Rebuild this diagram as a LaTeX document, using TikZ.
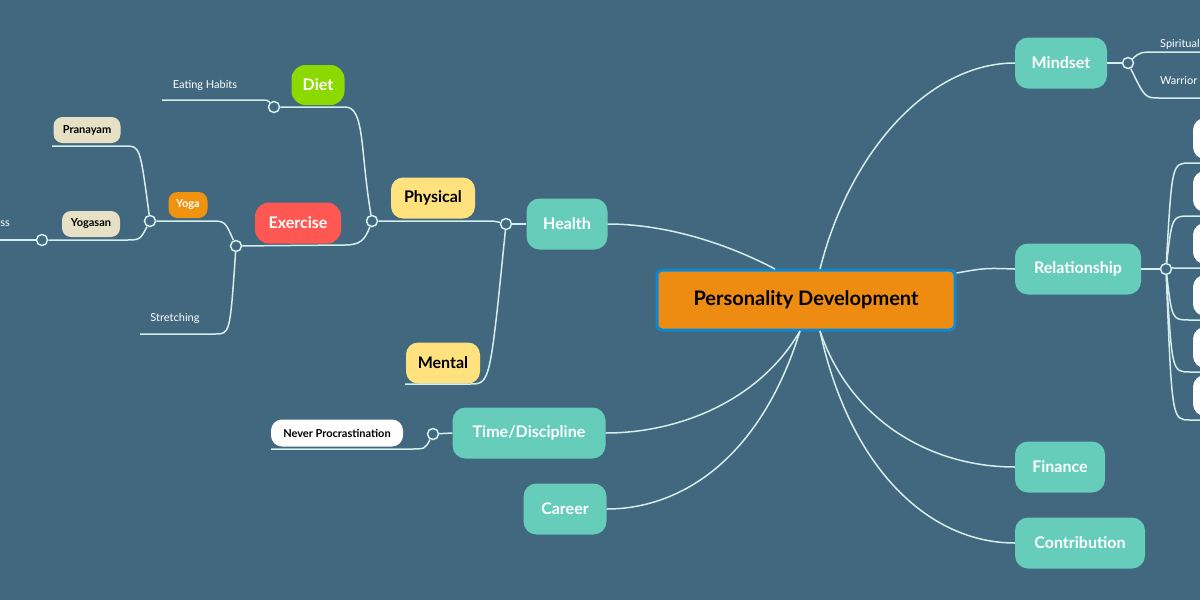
\documentclass[tikz,border=0pt]{standalone}
\usepackage{fontspec}
\setmainfont{Lato}
\begin{document}
\begin{tikzpicture}[x=1pt,y=-1pt,
 ln/.style={draw=lnc,line width=1.5pt},
 jn/.style={circle,draw=lnc,line width=1.5pt,fill=bg,minimum size=11pt,inner sep=0pt},
 tl/.style={rounded corners=13pt,fill=tealc,text=white,font=\bfseries\fontsize{16}{18}\selectfont,minimum height=51pt,inner sep=0pt},
 yl/.style={rounded corners=12pt,fill=yelc,text=black,font=\bfseries\fontsize{16}{18}\selectfont,minimum height=41pt,inner sep=0pt},
 sm/.style={rounded corners=9pt,fill=beige,text=black,font=\bfseries\fontsize{11}{13}\selectfont,minimum height=26pt,inner sep=0pt},
 lbl/.style={text=white,font=\fontsize{11}{13}\selectfont,inner sep=0pt}]
\definecolor{bg}{HTML}{41687F}
\definecolor{lnc}{HTML}{D4EEEA}
\definecolor{tealc}{HTML}{66CDBB}
\definecolor{yelc}{HTML}{FFE17E}
\definecolor{beige}{HTML}{E6E0C4}
\fill[bg] (0,0) rectangle (1200,600);
\useasboundingbox (0,0) rectangle (1200,600);
% center
\node[draw=cyan!70!blue,line width=3pt,fill=orange!70!brown!90!yellow,rounded corners=5pt,minimum width=298pt,minimum height=60pt,font=\bfseries\fontsize{20}{24}\selectfont,text=black] (c) at (806,300) {Personality Development};
% main branches
\node[tl,minimum width=92pt] (mind) at (1061,63) {Mindset};
\node[tl,minimum width=126pt] (rel) at (1078,269) {Relationship};
\node[tl,minimum width=90pt] (fin) at (1060,467) {Finance};
\node[tl,minimum width=130pt] (con) at (1080,543) {Contribution};
\node[tl,minimum width=81pt] (hea) at (567,224) {Health};
\node[tl,minimum width=153pt] (tim) at (529,433) {Time/Discipline};
\node[tl,minimum width=83pt] (car) at (565,509) {Career};
\coordinate (cu) at (820,269);\coordinate (cl) at (775,269);
\coordinate (cb) at (820,331);\coordinate (cbl) at (800,331);
\draw[ln] (cu) .. controls (850,150) and (930,63) .. (mind.west);
\draw[ln] (c.east|-0,273) coordinate (ce) .. controls (985,268) .. (rel.west);
\draw[ln] (cb) .. controls (850,420) and (930,467) .. (fin.west);
\draw[ln] (cb) .. controls (850,470) and (930,543) .. (con.west);
\draw[ln] (cl) .. controls (720,240) and (660,224) .. (hea.east);
\draw[ln] (cbl) .. controls (760,400) and (680,433) .. (tim.east);
\draw[ln] (cbl) .. controls (760,460) and (680,509) .. (car.east);
% mindset
\node[jn] (jm) at (1128,63) {};
\draw[ln] (mind.east) -- (jm);
\coordinate (s1) at (1200,52); \coordinate (s2) at (1200,98);
\draw[ln] (jm) .. controls (1140,52) .. (1160,52) -- (s1);
\draw[ln] (jm) .. controls (1145,98) .. (1160,98) -- (s2);
\node[lbl,anchor=west] (sp) at (1160,44) {Spiritual};
\node[lbl,anchor=west] (wa) at (1160,81) {Warrior};
% relationship
\node[jn] (jr) at (1166,269) {};
\draw[ln] (rel.east) -- (jr);
\foreach \i/\yy in {1/163,2/216,3/268,4/320,5/372,6/420}{
 \coordinate (r\i) at (1200,\yy);
 \draw[ln] (jr) .. controls (1172,\yy) .. (1190,\yy) -- (r\i);
 \fill[white,rounded corners=12pt] (1193,\yy-45) rectangle (1240,\yy-4);
}
% health
\node[jn] (jh) at (506,224) {};
\draw[ln] (hea.west) -- (jh);
\node[yl,minimum width=84pt] (phy) at (433,198) {Physical};
\node[yl,minimum width=74pt] (men) at (443,363) {Mental};
\node[jn] (jp) at (372,221) {};
\draw[ln] (jh) .. controls (495,221) .. (480,221) -- (jp);
\draw[ln] (jh) .. controls (490,384) .. (470,384) -- (405,384) coordinate (mu);
% physical
\node[rounded corners=14pt,fill=green!50!olive!60!yellow,text=white,font=\bfseries\fontsize{16}{18}\selectfont,minimum width=53pt,minimum height=40pt,inner sep=0pt] (diet) at (318,85) {Diet};
\node[rounded corners=14pt,fill=red!55!pink!95!orange,text=white,font=\bfseries\fontsize{16}{18}\selectfont,minimum width=86pt,minimum height=41pt,inner sep=0pt] (exe) at (298,223) {Exercise};
\node[jn] (jd) at (274,107) {};
\node[jn] (je) at (236,246) {};
\draw[ln] (jp) .. controls (360,150) and (365,107) .. (345,107) -- (jd);
\draw[ln] (jp) .. controls (365,240) and (360,245) .. (345,245) -- (je);
% diet
\node[lbl] (eh) at (205,85) {Eating Habits};
\draw[ln] (jd) .. controls (268,100) .. (255,100) -- (162,100) coordinate (ehe);
% exercise
\node[rounded corners=9pt,fill=orange!75!brown!85!yellow,text=white,font=\bfseries\fontsize{11}{13}\selectfont,minimum width=39pt,minimum height=26pt,inner sep=0pt] (yog) at (188,205) {Yoga};
\node[jn] (jy) at (150,221) {};
\draw[ln] (je) .. controls (225,221) .. (210,221) -- (jy);
\node[lbl] (st) at (175,318) {Stretching};
\draw[ln] (je) .. controls (230,334) .. (215,334) -- (140,334) coordinate (ste);
% yoga
\node[sm,minimum width=67pt] (pra) at (87,130) {Pranayam};
\node[sm,minimum width=58pt] (yas) at (91,224) {Yogasan};
\node[jn] (jya) at (42,240) {};
\draw[ln] (jy) .. controls (140,146) .. (125,146) -- (52,146) coordinate (pre);
\draw[ln] (jy) .. controls (140,240) .. (125,240) -- (jya);
\draw[ln] (jya) -- (0,240) coordinate (le);
\node[lbl,anchor=east] (ss) at (10,224) {ss};
% time
\node[jn] (jt) at (433,434) {};
\draw[ln] (tim.west) -- (jt);
\node[rounded corners=11pt,fill=white,text=black,font=\bfseries\fontsize{11}{13}\selectfont,minimum width=132pt,minimum height=27pt,inner sep=0pt] (np) at (337,433) {Never Procrastination};
\draw[ln] (jt) .. controls (425,449) .. (410,449) -- (271,449) coordinate (npe);
\end{tikzpicture}
\end{document}
